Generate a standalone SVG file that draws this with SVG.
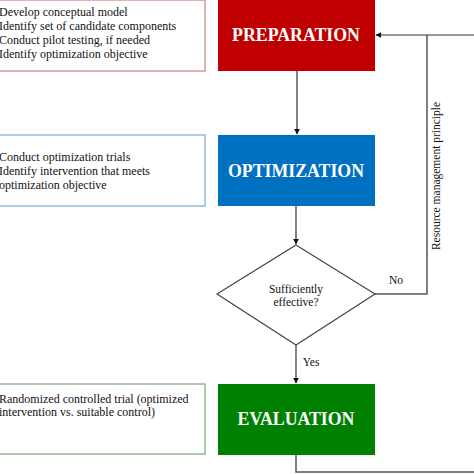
<svg xmlns="http://www.w3.org/2000/svg" width="474" height="474" viewBox="0 0 474 474">
<defs>
<style>
.desc{fill:#fff;stroke-width:1.3}
.dt{font-family:"Liberation Serif",serif;font-size:12px;fill:#111}
.stage{font-family:"Liberation Serif",serif;font-size:17.8px;font-weight:bold;fill:#fff;text-anchor:middle}
.ln{fill:none;stroke:#333;stroke-width:1.2}
.ln2{fill:none;stroke:#555;stroke-width:1.5}
.lbl{font-family:"Liberation Serif",serif;font-size:11.5px;fill:#111}
</style>
<marker id="ah" viewBox="0 0 10 10" refX="9" refY="5" markerWidth="6" markerHeight="6" orient="auto" markerUnits="userSpaceOnUse">
<path d="M0,0L10,5L0,10z" fill="#111"/>
</marker>
</defs>
<rect width="474" height="474" fill="#fff"/>
<g id="connectors">
<line class="ln" x1="297" y1="71" x2="297" y2="134" marker-end="url(#ah)"/>
<line class="ln" x1="296" y1="206" x2="296" y2="244" marker-end="url(#ah)"/>
<line class="ln" x1="296" y1="345" x2="296" y2="383" marker-end="url(#ah)"/>
<polyline class="ln2" points="375,294 427,294 427,35"/>
<line class="ln" x1="474" y1="35" x2="376" y2="35" marker-end="url(#ah)"/>
<polyline class="ln2" points="296,455 296,472 474,472"/>
<text class="lbl" x="396" y="284" text-anchor="middle">No</text>
<text class="lbl" x="311" y="366" text-anchor="middle">Yes</text>
<text class="lbl" font-size="9px" text-anchor="middle" transform="translate(440,176) rotate(-90)">Resource management principle</text>
</g>
<g id="prep-desc">
<rect class="desc" x="-2" y="0" width="207" height="71" stroke="#d48a8a"/>
<text class="dt" x="-1" y="16">Develop conceptual model</text>
<text class="dt" x="-1" y="30">Identify set of candidate components</text>
<text class="dt" x="-1" y="44">Conduct pilot testing, if needed</text>
<text class="dt" x="-1" y="58">Identify optimization objective</text>
</g>
<g id="preparation">
<rect x="218" y="-2" width="157" height="73" fill="#c00000"/>
<text class="stage" x="296" y="41">PREPARATION</text>
</g>
<g id="opt-desc">
<rect class="desc" x="-2" y="135" width="207" height="71" stroke="#7fb3d5"/>
<text class="dt" x="-1" y="161">Conduct optimization trials</text>
<text class="dt" x="-1" y="175">Identify intervention that meets</text>
<text class="dt" x="-1" y="189">optimization objective</text>
</g>
<g id="optimization">
<rect x="218" y="135" width="157" height="71" fill="#0070c0"/>
<text class="stage" x="296" y="177">OPTIMIZATION</text>
</g>
<g id="decision">
<polygon points="296,245 375,294 296,345 217,294" fill="#fff" stroke="#444" stroke-width="1.2"/>
<text class="lbl" x="296" y="293" text-anchor="middle">Sufficiently</text>
<text class="lbl" x="296" y="306" text-anchor="middle">effective?</text>
</g>
<g id="eval-desc">
<rect class="desc" x="-2" y="384" width="207" height="70" stroke="#7fb07f"/>
<text class="dt" x="-1" y="403">Randomized controlled trial (optimized</text>
<text class="dt" x="-1" y="416">intervention vs. suitable control)</text>
</g>
<g id="evaluation">
<rect x="218" y="384" width="157" height="71" fill="#008000"/>
<text class="stage" x="296" y="425">EVALUATION</text>
</g>
</svg>
